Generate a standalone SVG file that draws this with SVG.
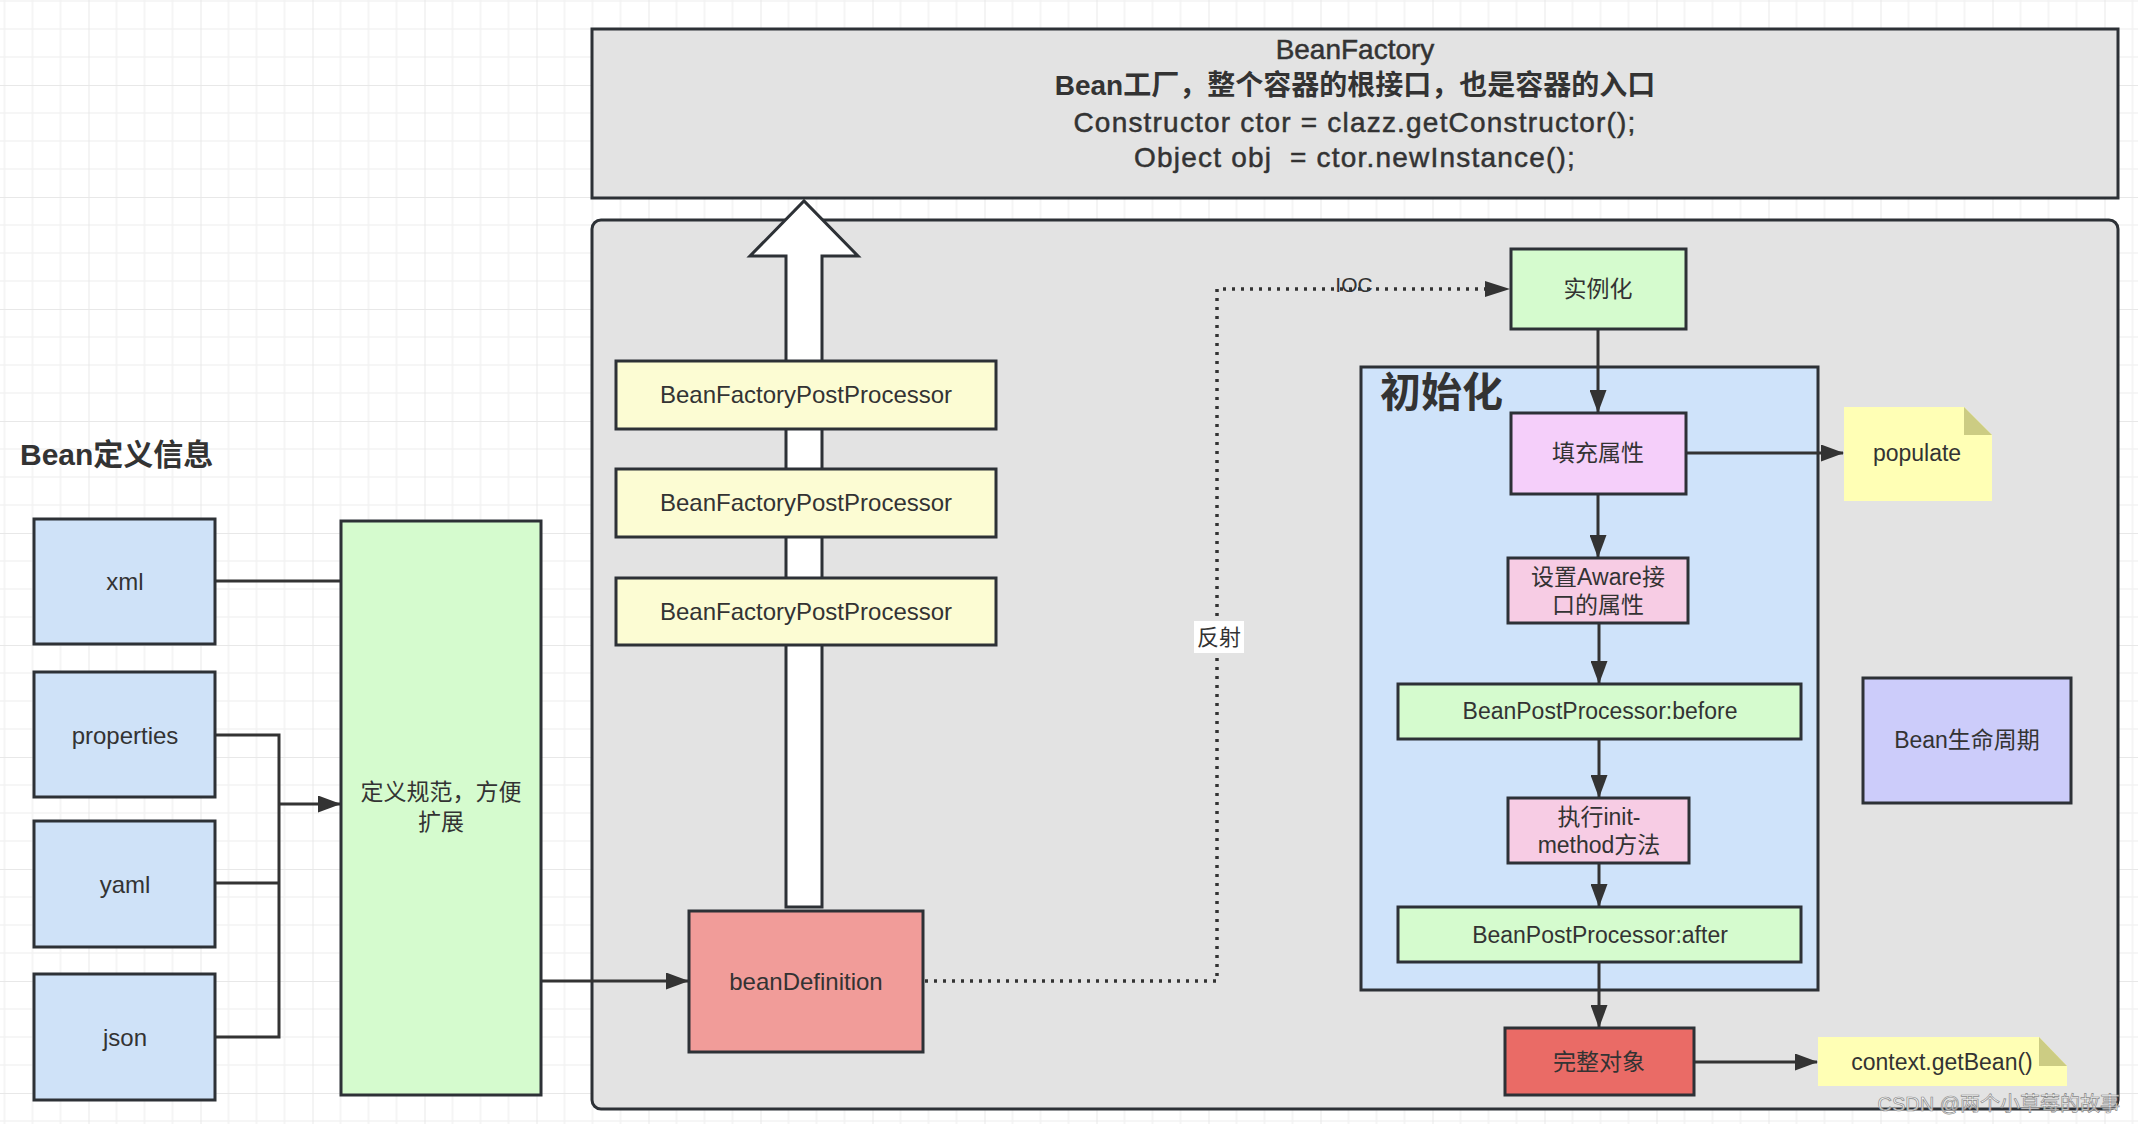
<svg xmlns="http://www.w3.org/2000/svg" width="2138" height="1124" viewBox="0 0 2138 1124">
<defs>
<pattern id="grid" x="88.5" y="85" width="112" height="112" patternUnits="userSpaceOnUse">
<path d="M28,0V112M56,0V112M84,0V112M0,28H112M0,56H112M0,84H112" stroke="#f3f3f3" stroke-width="1.6" fill="none"/>
<path d="M0,0V112M0,0H112" stroke="#e8e8e8" stroke-width="2" fill="none"/>
</pattern>
<marker id="arr" markerUnits="userSpaceOnUse" markerWidth="23" markerHeight="17" refX="22" refY="8.5" orient="auto">
<path d="M0,0L23,8.5L0,17z" fill="#333"/>
</marker>
<style>
.box{stroke:#2d3136;stroke-width:3}
.t{font-family:"Liberation Sans","Noto Sans CJK SC",sans-serif;fill:#333;text-anchor:middle;dominant-baseline:central;font-size:24px}
.c{font-family:"Liberation Sans","Noto Sans CJK SC",sans-serif;fill:#333;text-anchor:middle;dominant-baseline:central;font-size:23px}
.h{font-size:28px;stroke:#333;stroke-width:0.5}
.ln{stroke:#333;stroke-width:3;fill:none}
.dot{stroke:#333;stroke-width:3.5;fill:none;stroke-dasharray:3 6}
</style>
</defs>
<rect width="2138" height="1124" fill="#fff"/>
<rect width="2138" height="1124" fill="url(#grid)"/>

<g id="beanfactory">
<rect class="box" x="592" y="29" width="1526" height="169" fill="#e3e3e3"/>
<text class="t h" x="1355" y="49">BeanFactory</text>
<text class="t h" x="1355" y="85" style="font-weight:bold;stroke-width:0">Bean工厂，整个容器的根接口，也是容器的入口</text>
<text class="t h" x="1355" y="122" style="letter-spacing:1.2px">Constructor ctor = clazz.getConstructor();</text>
<text class="t h" x="1355" y="157" style="letter-spacing:1.2px" xml:space="preserve">Object obj  = ctor.newInstance();</text>
</g>

<g id="container">
<rect class="box" x="592" y="220" width="1526" height="889" rx="9" fill="#e3e3e3"/>
</g>

<g id="init-group">
<rect class="box" x="1361" y="367" width="457" height="623" fill="#cfe3fa"/>
<text x="1380" y="393" style="font-family:'Liberation Sans','Noto Sans CJK SC',sans-serif;font-size:41px;font-weight:bold;fill:#333;dominant-baseline:central">初始化</text>
</g>

<g id="title">
<text x="20" y="454" style="font-family:'Liberation Sans','Noto Sans CJK SC',sans-serif;font-size:30px;font-weight:bold;fill:#333;dominant-baseline:central">Bean定义信息</text>
</g>

<g id="connectors">
<line class="ln" x1="215" y1="581" x2="341" y2="581"/>
<path class="ln" d="M215,735H279V1037H215"/>
<line class="ln" x1="215" y1="883" x2="279" y2="883"/>
<line class="ln" x1="279" y1="804" x2="340" y2="804" marker-end="url(#arr)"/>
<line class="ln" x1="541" y1="981" x2="688" y2="981" marker-end="url(#arr)"/>
<polygon points="786,907 786,256 750,256 804,201 858,256 822,256 822,907" fill="#fff" stroke="#2d3136" stroke-width="3" stroke-linejoin="miter"/>
<path class="dot" d="M925,981H1217V289H1487"/>
<path d="M1485,281L1510,289L1485,297z" fill="#333"/>
<text class="t" x="1354" y="284" style="font-size:21px">IOC</text>
<rect x="1194" y="621" width="50" height="32" fill="#fff"/>
<text class="c" x="1219" y="637" style="font-size:22px">反射</text>
<line class="ln" x1="1598" y1="329" x2="1598" y2="412" marker-end="url(#arr)"/>
<line class="ln" x1="1598" y1="494" x2="1598" y2="557" marker-end="url(#arr)"/>
<line class="ln" x1="1599" y1="623" x2="1599" y2="683" marker-end="url(#arr)"/>
<line class="ln" x1="1599" y1="739" x2="1599" y2="797" marker-end="url(#arr)"/>
<line class="ln" x1="1599" y1="863" x2="1599" y2="906" marker-end="url(#arr)"/>
<line class="ln" x1="1599" y1="962" x2="1599" y2="1027" marker-end="url(#arr)"/>
<line class="ln" x1="1686" y1="453" x2="1843" y2="453" marker-end="url(#arr)"/>
<line class="ln" x1="1694" y1="1062" x2="1817" y2="1062" marker-end="url(#arr)"/>
</g>

<g id="xml"><rect class="box" x="34" y="519" width="181" height="125" fill="#cfe2f8"/><text class="t" x="125" y="581">xml</text></g>
<g id="properties"><rect class="box" x="34" y="672" width="181" height="125" fill="#cfe2f8"/><text class="t" x="125" y="735">properties</text></g>
<g id="yaml"><rect class="box" x="34" y="821" width="181" height="126" fill="#cfe2f8"/><text class="t" x="125" y="884">yaml</text></g>
<g id="json"><rect class="box" x="34" y="974" width="181" height="126" fill="#cfe2f8"/><text class="t" x="125" y="1037">json</text></g>

<g id="spec"><rect class="box" x="341" y="521" width="200" height="574" fill="#d5fbce"/>
<text class="c" x="441" y="792">定义规范，方便</text>
<text class="c" x="441" y="822">扩展</text></g>

<g id="bfpp1"><rect class="box" x="616" y="361" width="380" height="68" fill="#fcfcd3"/><text class="t" x="806" y="394">BeanFactoryPostProcessor</text></g>
<g id="bfpp2"><rect class="box" x="616" y="469" width="380" height="68" fill="#fcfcd3"/><text class="t" x="806" y="502">BeanFactoryPostProcessor</text></g>
<g id="bfpp3"><rect class="box" x="616" y="578" width="380" height="67" fill="#fcfcd3"/><text class="t" x="806" y="611">BeanFactoryPostProcessor</text></g>

<g id="beanDefinition"><rect class="box" x="689" y="911" width="234" height="141" fill="#f19c99"/><text class="t" x="806" y="981">beanDefinition</text></g>

<g id="instantiate"><rect class="box" x="1511" y="249" width="175" height="80" fill="#d5fbce"/><text class="c" x="1598" y="289">实例化</text></g>
<g id="populate-props"><rect class="box" x="1511" y="413" width="175" height="81" fill="#f5cffa"/><text class="c" x="1598" y="453">填充属性</text></g>
<g id="aware"><rect class="box" x="1508" y="558" width="180" height="65" fill="#f7cce4"/><text class="c" x="1598" y="577">设置Aware接</text><text class="c" x="1598" y="605">口的属性</text></g>
<g id="bpp-before"><rect class="box" x="1398" y="684" width="403" height="55" fill="#d5fbce"/><text class="c" x="1600" y="711">BeanPostProcessor:before</text></g>
<g id="init-method"><rect class="box" x="1508" y="798" width="181" height="65" fill="#f7cce4"/><text class="c" x="1599" y="817">执行init-</text><text class="c" x="1599" y="845">method方法</text></g>
<g id="bpp-after"><rect class="box" x="1398" y="907" width="403" height="55" fill="#d5fbce"/><text class="c" x="1600" y="935">BeanPostProcessor:after</text></g>
<g id="complete"><rect class="box" x="1505" y="1028" width="189" height="67" fill="#ea6b66"/><text class="c" x="1599" y="1062">完整对象</text></g>

<g id="populate-note"><polygon points="1844,407 1964,407 1992,435 1992,501 1844,501" fill="#ffffb5"/><polygon points="1964,407 1992,435 1964,435" fill="#cccc83"/><text class="c" x="1917" y="453">populate</text></g>
<g id="getbean-note"><polygon points="1818,1037 2039,1037 2067,1066 2067,1086 1818,1086" fill="#ffffb5"/><polygon points="2039,1037 2067,1066 2039,1066" fill="#cccc83"/><text class="c" x="1942" y="1062">context.getBean()</text></g>

<g id="lifecycle"><rect class="box" x="1863" y="678" width="208" height="125" fill="#ccccfa"/><text class="c" x="1967" y="740">Bean生命周期</text></g>

<text x="2120" y="1104" style="font-family:'Liberation Sans','Noto Sans CJK SC',sans-serif;font-size:20px;fill:#ffffff;fill-opacity:0.75;stroke:#8a8a8a;stroke-width:0.7;dominant-baseline:central;text-anchor:end">CSDN @两个小草莓的故事</text>
</svg>
